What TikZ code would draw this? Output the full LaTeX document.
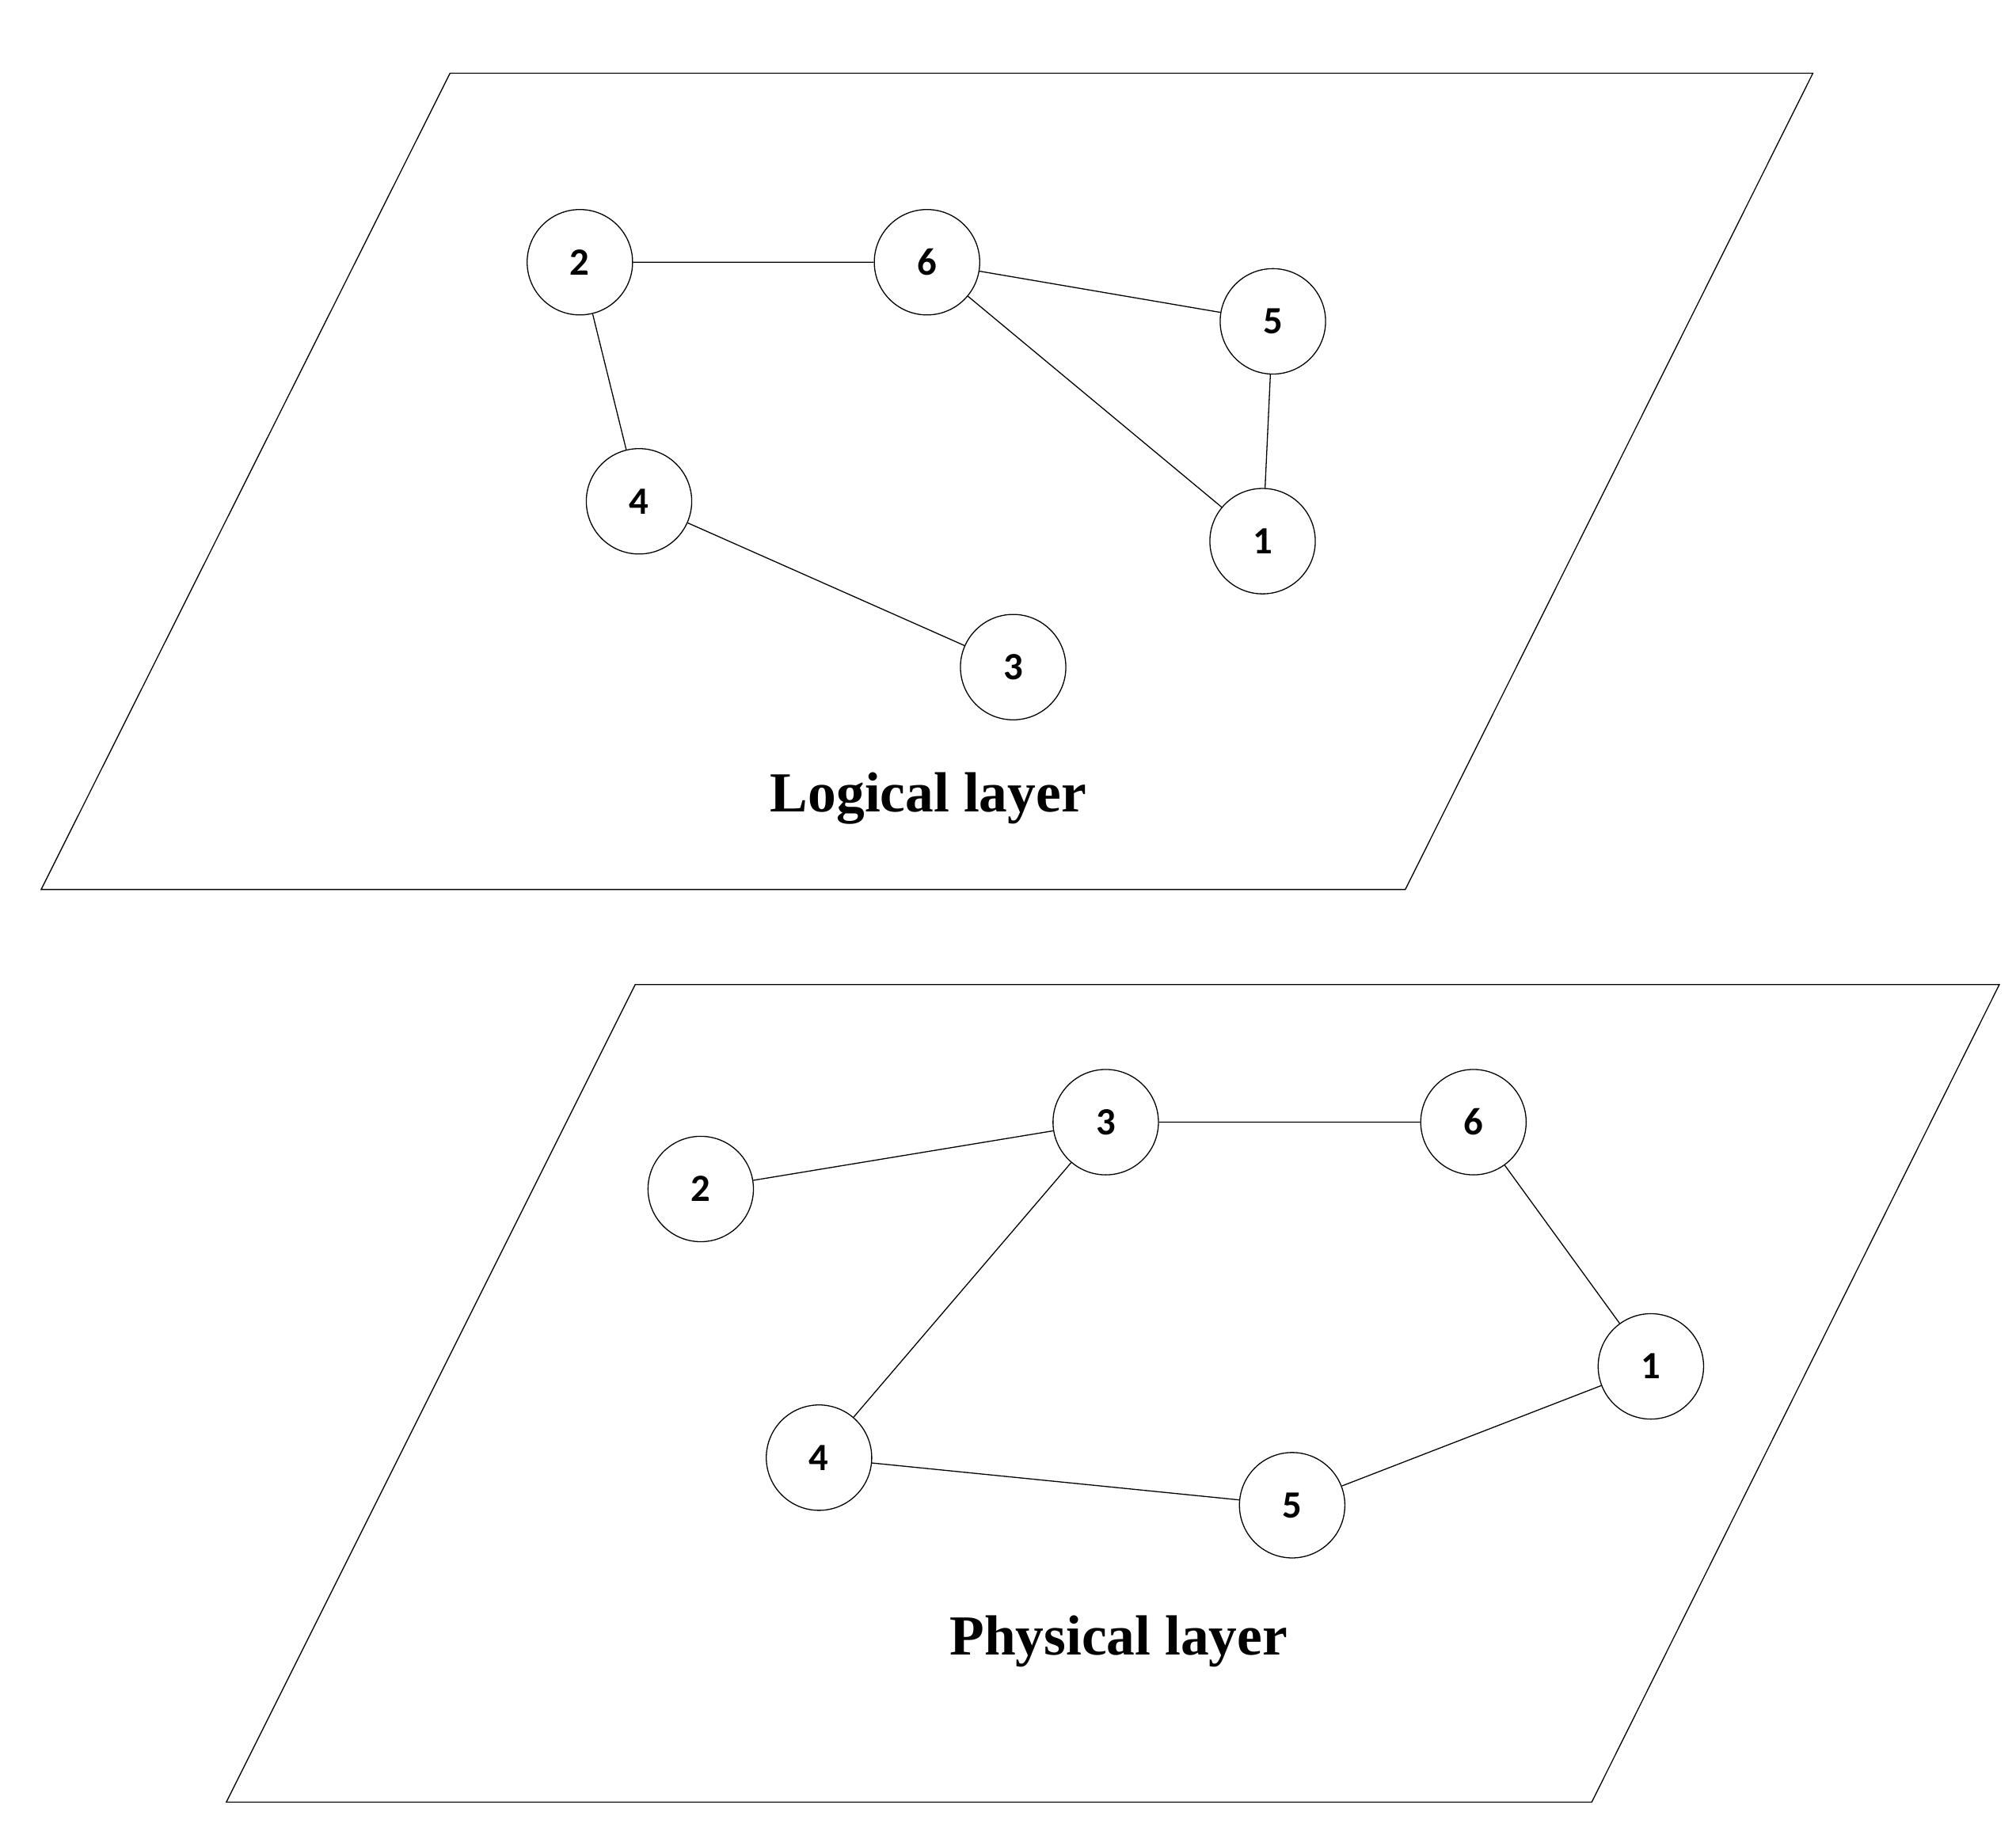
\documentclass[tikz,border=0pt]{standalone}
\usepackage{fontspec}
\setmainfont{Liberation Serif}
\newfontfamily\numfont{Carlito}
\begin{document}
\begin{tikzpicture}[x=1pt,y=-1pt,
  nd/.style={circle,draw,line width=0.8pt,minimum size=82pt,inner sep=0pt,font=\numfont\bfseries\fontsize{30}{30}\selectfont},
  lbl/.style={font=\bfseries\fontsize{44}{44}\selectfont},
  ln/.style={line width=0.8pt}]
\useasboundingbox (0,0) rectangle (1568,1427);
\draw[ln] (350,57) -- (1410,57) -- (1093,692) -- (32,692) -- cycle;
\draw[ln] (494,766) -- (1555,766) -- (1238,1402) -- (176,1402) -- cycle;
\node[nd] (a2) at (451,204) {2};
\node[nd] (a6) at (721,204) {6};
\node[nd] (a5) at (990,250) {5};
\node[nd] (a1) at (982,421) {1};
\node[nd] (a4) at (497,390) {4};
\node[nd] (a3) at (788,519) {3};
\draw[ln] (a2)--(a6) (a6)--(a5) (a5)--(a1) (a6)--(a1) (a2)--(a4) (a4)--(a3);
\node[lbl] (lt) at (722,621) {Logical layer};
\node[nd] (b3) at (860,873) {3};
\node[nd] (b6) at (1146,873) {6};
\node[nd] (b2) at (545,925) {2};
\node[nd] (b1) at (1284,1063) {1};
\node[nd] (b4) at (637,1134) {4};
\node[nd] (b5) at (1005,1171) {5};
\draw[ln] (b2)--(b3) (b3)--(b6) (b6)--(b1) (b1)--(b5) (b5)--(b4) (b4)--(b3);
\node[lbl] (pt) at (870,1277) {Physical layer};
\end{tikzpicture}
\end{document}
